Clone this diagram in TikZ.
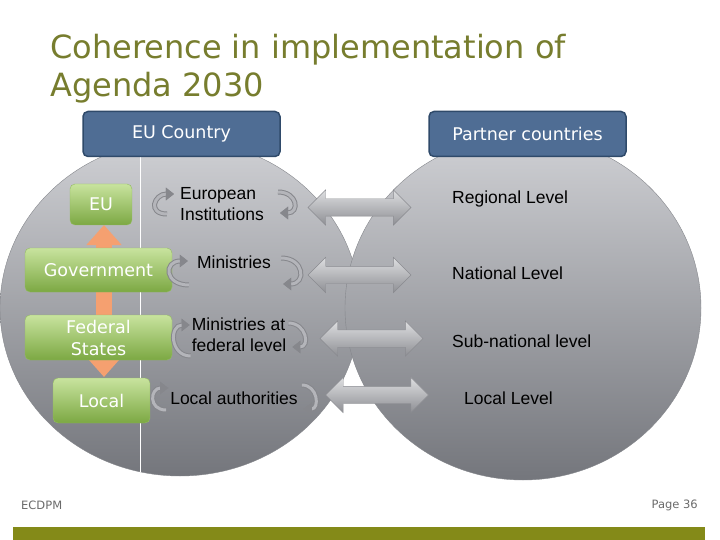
\documentclass[tikz,border=0pt]{standalone}
\usepackage{fontspec}
\setmainfont{Liberation Sans}
\newfontfamily\verd{DejaVu Sans}
\usetikzlibrary{shapes.arrows,arrows.meta,calc}
\definecolor{titleolive}{HTML}{777D2E}
\definecolor{barolive}{HTML}{848A18}
\definecolor{boxblue}{HTML}{4F6D94}
\definecolor{boxedge}{HTML}{2F4A6A}
\definecolor{circtop}{HTML}{CFD0D4}
\definecolor{circbot}{HTML}{74767C}
\definecolor{circedge}{HTML}{85878C}
\definecolor{greentop}{HTML}{C8E39E}
\definecolor{greenbot}{HTML}{7CA843}
\definecolor{greenedge}{HTML}{94BC62}
\definecolor{updown}{HTML}{F5A070}
\definecolor{arrtop}{HTML}{DEDFE1}
\definecolor{arrbot}{HTML}{8E8F94}
\definecolor{arredge}{HTML}{8A8B90}
\definecolor{curldark}{HTML}{86878C}
\definecolor{curllight}{HTML}{B4B5BA}
\definecolor{footgray}{HTML}{6A6A6A}
\begin{document}
\begin{tikzpicture}[x=1pt,y=-1pt,
hdr/.style={draw=boxedge,fill=boxblue,rounded corners=5pt,line width=1.5pt,minimum width=197pt,minimum height=45pt,text=white,font=\verd\fontsize{17.5}{21}\selectfont},
tier/.style={draw=greenedge,top color=greentop,bottom color=greenbot,rounded corners=5pt,minimum height=44pt,text=white,font=\verd\fontsize{17.5}{22}\selectfont,align=center,inner sep=0pt},
lbl/.style={font=\fontsize{17.5}{21}\selectfont,align=left,inner sep=0pt},
twoway/.style={double arrow,draw=arredge,top color=arrtop,bottom color=arrbot,minimum height=103pt,double arrow head extend=9pt,inner xsep=0pt,inner ysep=8.5pt},
curl/.style={line width=3pt,draw=curllight,preaction={draw=curldark,line width=5pt},-{Triangle[length=8pt,width=12pt,color=curldark]}}
]

\tikzstyle{foot} = [font=\verd\fontsize{11.5}{14}\selectfont,text=footgray,inner sep=0pt]

  \useasboundingbox (0,0) rectangle (720,540);

  \node (title) [anchor=north west,align=left,text=titleolive,inner sep=0pt,
    font=\verd\fontsize{32}{38}\selectfont] at (50,34) {Coherence in implementation of\\Agenda 2030};

  \path[draw=circedge,top color=circtop,bottom color=circbot] (180,308) ellipse [x radius=180,y radius=168];
  \draw[white,line width=0.8pt] (140,157) -- (140,472);
  \path[draw=circedge,top color=circtop,bottom color=circbot] (523,308) ellipse [x radius=178,y radius=172];

  \node (euc) [hdr] at (181.5,134) {EU Country};
  \node (pc)  [hdr] at (527.5,134) {Partner countries};

  \coordinate (eubase) at (104,225);
  \coordinate (loctop) at (104,377);
  \draw[updown,line width=16pt,{Triangle[length=20pt,width=34pt]}-{Triangle[length=20pt,width=34pt]}] (eubase) -- (loctop);

  \node (eu)  [tier,minimum width=62pt,minimum height=41pt] at (101,204.5) {EU};
  \node (gov) [tier,minimum width=147pt] at (98.5,270) {Government};
  \node (fed) [tier,minimum width=147pt,minimum height=45pt] at (98.5,337.5) {Federal\\States};
  \node (loc) [tier,minimum width=97pt,minimum height=45pt] at (101.5,400.5) {Local};

  \node (inst)    [lbl] at (222,204) {European\\Institutions};
  \node (mins)    [lbl] at (234,262) {Ministries};
  \node (fedmin)  [lbl] at (239,335) {Ministries at\\federal level};
  \node (locauth) [lbl] at (234,398) {Local authorities};

  \node (reg) [lbl,anchor=west] at (452,199) {Regional Level};
  \node (nat) [lbl,anchor=west] at (452,273) {National Level};
  \node (sub) [lbl,anchor=west] at (452,341) {Sub-national level};
  \node (lev) [lbl,anchor=west] at (464,398) {Local Level};

  \node (ar1) [twoway] at (359.5,207.5) {};
  \node (ar2) [twoway] at (359.5,275) {};
  \node (ar3) [twoway] at (371.5,338.5) {};
  \node (ar4) [twoway] at (377,395) {};

  \draw[curl] ($(inst.west)+(-13,10)$) to[out=180,in=180,looseness=2.4] ($(inst.west)+(-6,-10)$);
  \draw[curl] ($(inst.east)+(14,-12)$) to[out=0,in=0,looseness=2.4] ($(inst.east)+(16,9)$);
  \draw[curl] ($(mins.west)+(-8,23)$) to[out=180,in=180,looseness=2.6] ($(mins.west)+(-9,-1)$);
  \draw[curl] ($(mins.east)+(10,-4)$) to[out=0,in=0,looseness=2.3] ($(mins.east)+(12,22)$);
  \draw[curl] ($(fedmin.west)+(-1,21)$) to[out=180,in=180,looseness=1.7] ($(fedmin.west)+(-2,-10)$);
  \draw[curl] ($(fedmin.east)+(2,-12)$) to[out=0,in=0,looseness=1.9] ($(fedmin.east)+(6,12)$);
  \draw[curl] ($(locauth.west)+(-4,12)$) .. controls ($(locauth.west)+(-22,12)$) and ($(locauth.west)+(-20,-10)$) .. ($(locauth.west)+(-2,-10)$);
  \draw[curl] ($(locauth.east)+(4,-13)$) .. controls ($(locauth.east)+(20,-13)$) and ($(locauth.east)+(22,11)$) .. ($(locauth.east)+(6,11)$);

  \node (brand) [foot,anchor=west] at (21,505) {ECDPM};
  \node (page)  [foot,anchor=east] at (698,505) {Page 36};
  \fill[barolive] (13,527) rectangle (705,540);

\end{tikzpicture}
\end{document}
